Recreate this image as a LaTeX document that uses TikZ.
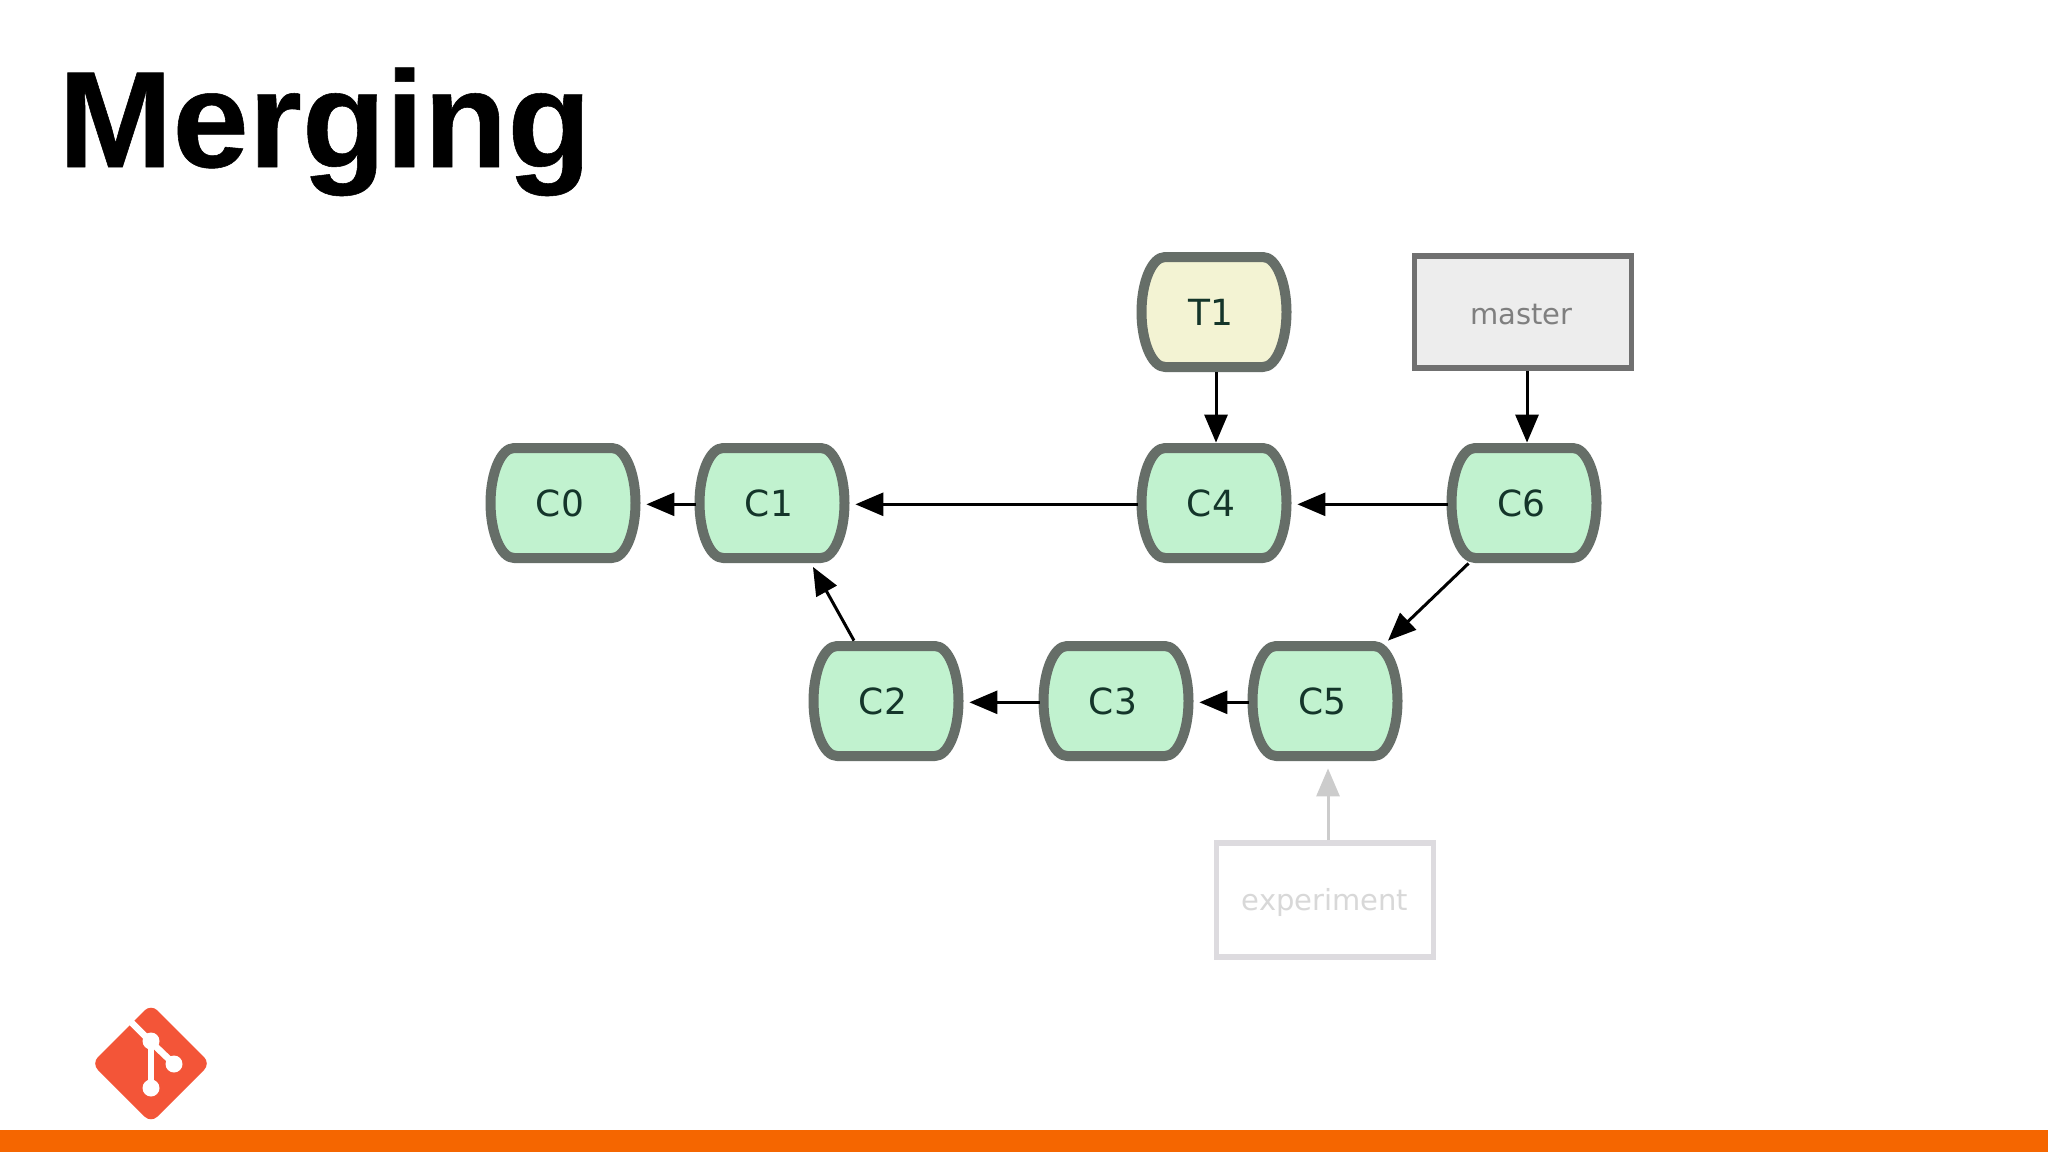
\documentclass[tikz,border=0pt]{standalone}
\usepackage{fontspec}
\setmainfont{Liberation Sans}
\newfontfamily\diagfont{DejaVu Sans}
\newfontfamily\titlefont{Liberation Sans Bold}[FakeBold=0.4]
\usetikzlibrary{arrows.meta}
\definecolor{commitfill}{HTML}{C1F2CF}
\definecolor{tagfill}{HTML}{F3F3D3}
\definecolor{edgegray}{HTML}{666E68}
\definecolor{commitink}{HTML}{14352A}
\definecolor{masterfill}{HTML}{EDEDED}
\definecolor{masterline}{HTML}{707070}
\definecolor{masterink}{HTML}{7F7F7F}
\definecolor{fadeline}{HTML}{DDDBDF}
\definecolor{fadeink}{HTML}{D8D8D8}
\definecolor{fadearrow}{HTML}{CCCCCC}
\definecolor{gitred}{HTML}{F35538}
\definecolor{barorange}{HTML}{F56600}
\tikzset{
  commitlabel/.style={minimum width=76pt,minimum height=60pt,inner sep=0pt,font=\diagfont\fontsize{18}{21}\selectfont,text=commitink},
  commitshape/.style={draw=edgegray,line width=5pt,line join=round},
  reflabel/.style={draw=masterline,fill=masterfill,line width=2.6pt,minimum width=108.5pt,minimum height=56pt,inner sep=0pt,font=\diagfont\fontsize{14.5}{18}\selectfont,text=masterink},
  faderef/.style={reflabel,draw=fadeline,fill=white,text=fadeink,minimum height=57pt},
  link/.style={line width=1.5pt,-{Triangle[length=14pt,width=11.5pt]},black},
  fadelink/.style={link,draw=fadearrow,-{Triangle[length=14pt,width=11.5pt,fill=fadearrow]}},
}
\newcommand{\commitat}[5]{%
  \path[commitshape,fill=#5,shift={(#2,#3)}]
    (-49,-55) -- (49,-55)
    .. controls (62,-55) and (72.5,-30) .. (72.5,0)
    .. controls (72.5,30) and (62,55) .. (49,55)
    -- (-49,55)
    .. controls (-62,55) and (-72.5,30) .. (-72.5,0)
    .. controls (-72.5,-30) and (-62,-55) .. (-49,-55) -- cycle;
  \node[commitlabel] (#1) at (#2,#3) {\kern-3pt #4};
}
\begin{document}
\begin{tikzpicture}[x=0.5pt,y=-0.5pt]
\useasboundingbox[fill=white] (0,0) rectangle (2048,1152);
\node[anchor=base west,inner sep=0pt,font=\titlefont\fontsize{68.5}{80}\selectfont] (title) at (58,167) {Merging};

\commitat{T1}{1214}{312}{T1}{tagfill}
\commitat{C0}{563}{503}{C0}{commitfill}
\commitat{C1}{772}{503}{C1}{commitfill}
\commitat{C4}{1214}{503}{C4}{commitfill}
\commitat{C6}{1524}{503}{C6}{commitfill}
\commitat{C2}{886}{701}{C2}{commitfill}
\commitat{C3}{1116}{701}{C3}{commitfill}
\commitat{C5}{1325}{701}{C5}{commitfill}
\node[reflabel] (master) at (1523,312) {\raisebox{-6pt}[0pt][0pt]{\kern-1.5pt master}};
\node[faderef] (experiment) at (1325,900) {\raisebox{-5.3pt}[0pt][0pt]{experiment}};

\draw[link,shorten >=3.5pt] ([yshift=-.65pt]C1.west) -- ([yshift=-.65pt]C0.east);
\draw[link,shorten >=3.5pt] ([yshift=-.65pt]C4.west) -- ([yshift=-.65pt]C1.east);
\draw[link,shorten >=3.5pt] ([yshift=-.65pt]C6.west) -- ([yshift=-.65pt]C4.east);
\draw[link] ([xshift=1pt]T1.south) -- ([xshift=1pt]C4.north);
\draw[link] ([xshift=2pt]master.south) -- ([xshift=1.5pt]C6.north);
\draw[link] ([xshift=-27.75pt]C6.south) -- ([xshift=31.5pt]C5.north);
\draw[link,shorten >=3.5pt] ([yshift=-.65pt]C5.west) -- ([yshift=-.65pt]C3.east);
\draw[link,shorten >=3.5pt] ([yshift=-.65pt]C3.west) -- ([yshift=-.65pt]C2.east);
\draw[link,shorten >=2pt] ([xshift=-16pt]C2.north) -- ([xshift=19.5pt]C1.south);
\draw[fadelink,shorten >=3.5pt] ([xshift=1.5pt]experiment.north) -- ([xshift=1.5pt]C5.south);

% git logo
\fill[gitred,rounded corners=4.5pt] (151,1004) -- (210.5,1063.5) -- (151,1123) -- (91.5,1063.5) -- cycle;
\draw[white,line width=3.3pt] (131,1022) -- (151,1042) -- (174,1064);
\draw[white,line width=3.3pt] (151,1042) -- (151,1088);
\fill[white] (151,1041) circle[radius=8.5];
\fill[white] (174,1064) circle[radius=8.5];
\fill[white] (151,1088) circle[radius=8.5];

\fill[barorange] (0,1130) rectangle (2048,1152);
\end{tikzpicture}
\end{document}
